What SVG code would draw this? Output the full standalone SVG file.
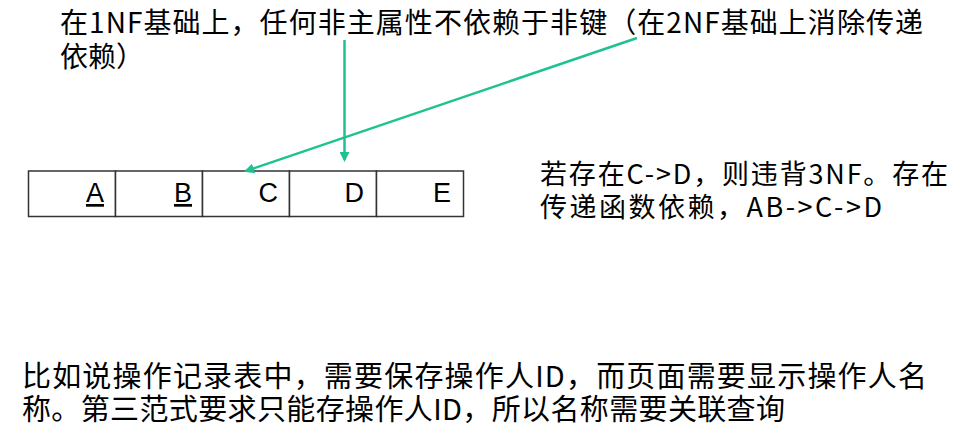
<svg xmlns="http://www.w3.org/2000/svg" width="965" height="433" viewBox="0 0 965 433">
<style>
.cjk{font-family:"Noto Sans CJK SC","Noto Sans",sans-serif;fill:#000}
.lat{font-family:"Liberation Sans",Arial,sans-serif;font-size:27px;fill:#000}
.cell{fill:#fff;stroke:#333;stroke-width:1.5}
.conn{stroke:#1ec291;stroke-width:2.5;fill:none}
</style>
<defs>
<marker id="ah" markerWidth="10" markerHeight="10" refX="8" refY="5" orient="auto" markerUnits="userSpaceOnUse">
<path d="M0,0 L10,5 L0,10 z" fill="#1ec291"/>
</marker>
</defs>
<rect width="965" height="433" fill="#fff"/>
<g id="title">
<text class="cjk" x="60" y="33" font-size="28" textLength="863">在1NF基础上，任何非主属性不依赖于非键（在2NF基础上消除传递</text>
<text class="cjk" x="60" y="67" font-size="28">依赖）</text>
</g>
<g id="table">
<rect class="cell" x="28.5" y="171" width="87" height="45.5"/>
<rect class="cell" x="115.5" y="171" width="87" height="45.5"/>
<rect class="cell" x="202.5" y="171" width="87" height="45.5"/>
<rect class="cell" x="289.5" y="171" width="87" height="45.5"/>
<rect class="cell" x="376.5" y="171" width="87" height="45.5"/>
<text class="lat" x="104" y="202" text-anchor="end" text-decoration="underline">A</text>
<text class="lat" x="192" y="202" text-anchor="end" text-decoration="underline">B</text>
<text class="lat" x="278" y="202" text-anchor="end">C</text>
<text class="lat" x="364" y="202" text-anchor="end">D</text>
<text class="lat" x="451" y="202" text-anchor="end">E</text>
</g>
<g id="connectors">
<line class="conn" x1="344.5" y1="40" x2="344.5" y2="160" marker-end="url(#ah)"/>
<line class="conn" x1="637" y1="38" x2="246" y2="171" marker-end="url(#ah)"/>
</g>
<g id="note">
<text class="cjk" x="540" y="184" font-size="27" textLength="408">若存在C-&gt;D，则违背3NF。存在</text>
<text class="cjk" x="540" y="217" font-size="27" textLength="342">传递函数依赖，AB-&gt;C-&gt;D</text>
</g>
<g id="example">
<text class="cjk" x="22" y="387" font-size="29" textLength="905">比如说操作记录表中，需要保存操作人ID，而页面需要显示操作人名</text>
<text class="cjk" x="22" y="420" font-size="29" textLength="763">称。第三范式要求只能存操作人ID，所以名称需要关联查询</text>
</g>
</svg>
